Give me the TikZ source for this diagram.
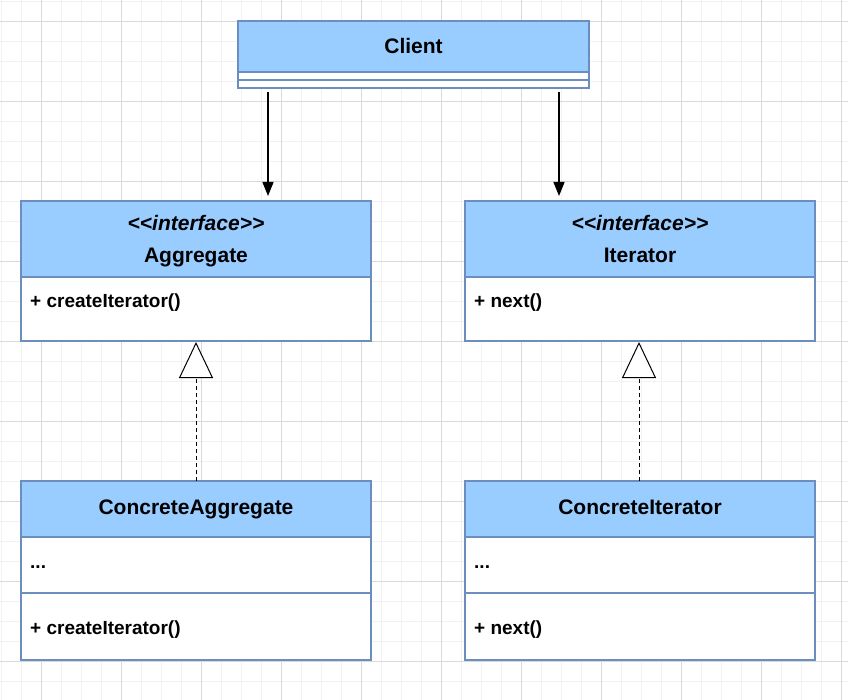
\documentclass[tikz,border=0pt]{standalone}
\usepackage{fontspec}
\setmainfont{Liberation Sans}
\usetikzlibrary{arrows.meta}
\definecolor{hdr}{HTML}{99CCFF}
\definecolor{bdr}{HTML}{6C8EBF}
\begin{document}
\begin{tikzpicture}[x=1pt,y=-1pt,
  box/.style={draw=bdr,line width=1.2pt},
  hdrbox/.style={box,fill=hdr},
  bodybox/.style={box,fill=white},
  t/.style={font=\bfseries\fontsize{21}{24}\selectfont,inner sep=0,text height=15pt,text depth=4pt},
  ti/.style={t,font=\bfseries\itshape\fontsize{21}{24}\selectfont},
  m/.style={font=\bfseries\fontsize{19}{22}\selectfont,anchor=west,inner sep=0,text height=14pt,text depth=4pt},
  arr/.style={line width=1.3pt,-{Triangle[length=14pt,width=11pt]}},
  real/.style={line width=1pt,dash pattern=on 4pt off 3pt,-{Triangle[open,length=36pt,width=34pt,fill=white]}}]
\useasboundingbox (0,0) rectangle (848,700);
\fill[white] (0,0) rectangle (848,700);
\foreach \x in {1.7,21.7,...,848} \draw[black!5,line width=0.8pt] (\x,0) -- (\x,700);
\foreach \y in {1.7,21.7,...,700} \draw[black!5,line width=0.8pt] (0,\y) -- (848,\y);
\foreach \x in {41.7,121.7,...,848} \draw[black!15,line width=0.8pt] (\x,0) -- (\x,700);
\foreach \y in {21.7,101.7,...,700} \draw[black!15,line width=0.8pt] (0,\y) -- (848,\y);
% Client
\draw[bodybox] (238,21) rectangle (589,88);
\draw[hdrbox] (238,21) rectangle (589,72);
\draw[bdr,line width=1.2pt] (238,80) -- (589,80);
\node[t] (client) at (413.5,48) {Client};
% Aggregate
\draw[bodybox] (21,201) rectangle (371,341);
\draw[hdrbox] (21,201) rectangle (371,277);
\node[ti] (ag1) at (196,225) {<{}<interface>{}>};
\node[t] (ag) at (196,257) {Aggregate};
\node[m] (agm) at (30,303) {+ createIterator()};
% Iterator
\draw[bodybox] (465,201) rectangle (815,341);
\draw[hdrbox] (465,201) rectangle (815,277);
\node[ti] (it1) at (640,225) {<{}<interface>{}>};
\node[t] (it) at (640,257) {Iterator};
\node[m] (itm) at (474,303) {+ next()};
% ConcreteAggregate
\draw[bodybox] (21,481) rectangle (371,660);
\draw[hdrbox] (21,481) rectangle (371,537);
\draw[bdr,line width=1.2pt] (21,593) -- (371,593);
\node[t] (ca) at (196,509) {ConcreteAggregate};
\node[m] (caa) at (30,563) {...};
\node[m] (cam) at (30,629) {+ createIterator()};
% ConcreteIterator
\draw[bodybox] (465,481) rectangle (815,660);
\draw[hdrbox] (465,481) rectangle (815,537);
\draw[bdr,line width=1.2pt] (465,593) -- (815,593);
\node[t] (ci) at (640,509) {ConcreteIterator};
\node[m] (cia) at (474,563) {...};
\node[m] (cim) at (474,629) {+ next()};
% connectors
\coordinate (c1) at (268,92); \coordinate (a1) at (268,196);
\coordinate (c2) at (559,92); \coordinate (a2) at (559,196);
\draw[arr] (c1) -- (a1);
\draw[arr] (c2) -- (a2);
\coordinate (r1s) at (196,481); \coordinate (r1e) at (196,342);
\coordinate (r2s) at (639,481); \coordinate (r2e) at (639,342);
\draw[real] (r1s) -- (r1e);
\draw[real] (r2s) -- (r2e);
\end{tikzpicture}
\end{document}
